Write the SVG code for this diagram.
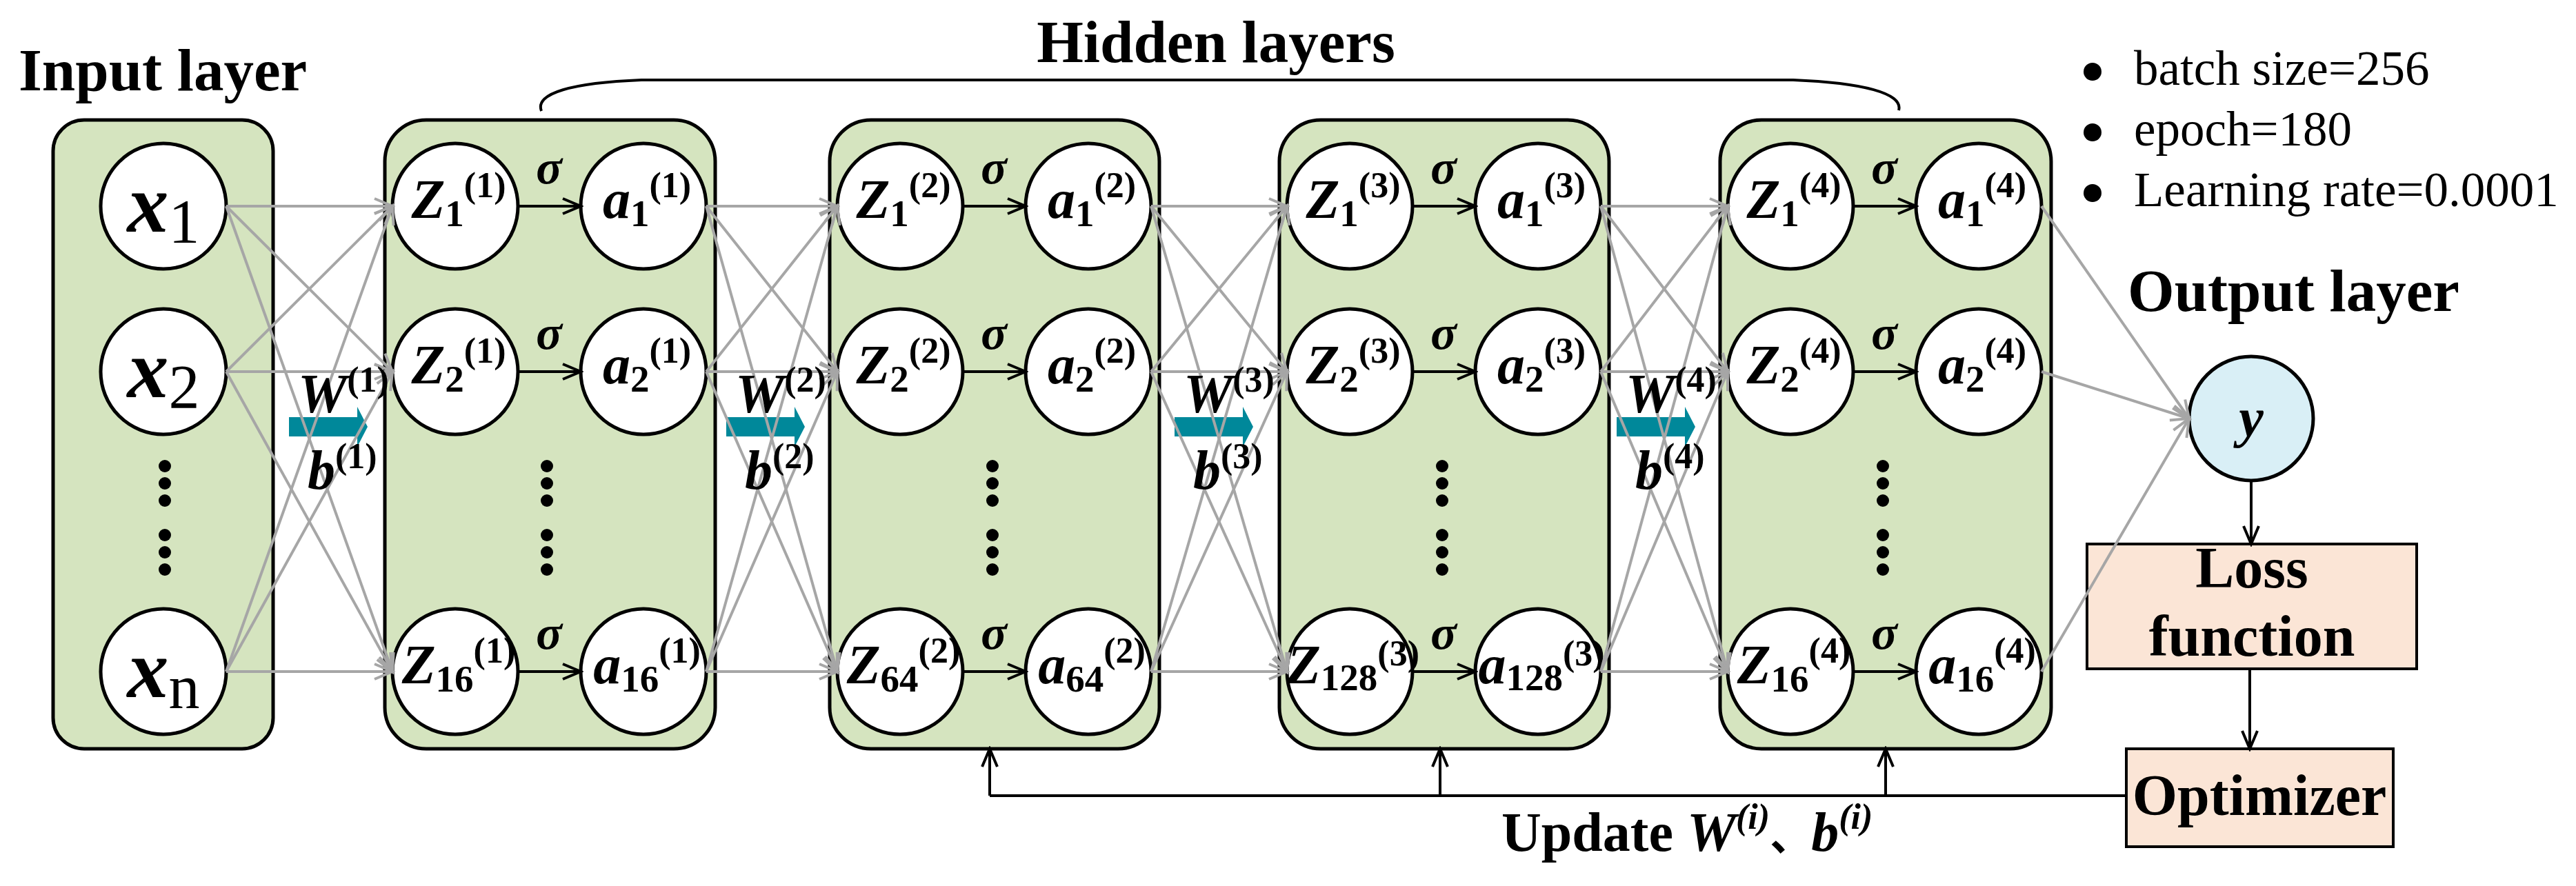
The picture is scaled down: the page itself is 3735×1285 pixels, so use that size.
<svg xmlns="http://www.w3.org/2000/svg" width="3735" height="1285" viewBox="0 0 3735 1285">
<style>
text{font-family:"Liberation Serif","Times New Roman","DejaVu Serif",serif;fill:#000}
.title{font-size:87px;font-weight:bold}
.box{fill:#d5e4bf;stroke:#000;stroke-width:5}
.node{fill:#fff;stroke:#000;stroke-width:5}
.g{stroke:#a6a6a6;stroke-width:4;fill:none;marker-end:url(#ga)}
.k{stroke:#000;stroke-width:4;fill:none;marker-end:url(#ka)}
.lab{font-size:80px;font-weight:bold;font-style:italic;text-anchor:middle}
.sub{font-size:55px;font-style:normal}
.sup{font-size:52px;font-style:normal}
.xl{font-size:120px;font-weight:bold;font-style:italic;text-anchor:middle}
.xs{font-size:90px;font-style:normal;font-weight:normal}
.sig{font-size:70px;font-weight:bold;font-style:italic;text-anchor:middle}
.teal{fill:#00889a}
.wb{font-size:80px;font-weight:bold;font-style:italic}
.bul{font-size:71px}
.bt{font-size:84px;font-weight:bold;text-anchor:middle}
</style>
<defs>
<marker id="ga" markerUnits="userSpaceOnUse" markerWidth="34" markerHeight="34" refX="30" refY="15" orient="auto" viewBox="0 0 34 30"><path d="M4,4 L30,15 L4,26" fill="none" stroke="#a6a6a6" stroke-width="4"/></marker>
<marker id="ka" markerUnits="userSpaceOnUse" markerWidth="34" markerHeight="34" refX="30" refY="15" orient="auto" viewBox="0 0 34 30"><path d="M4,4 L30,15 L4,26" fill="none" stroke="#000" stroke-width="4"/></marker>
<g id="dots"><circle cx="0" cy="0" r="9"/><circle cx="0" cy="25" r="9"/><circle cx="0" cy="50" r="9"/><circle cx="0" cy="100" r="9"/><circle cx="0" cy="125" r="9"/><circle cx="0" cy="150" r="9"/></g>
<path id="tarrow" d="M0,15 H99 V0 L114,29 L99,58 V43 H0 Z"/>
</defs>
<rect width="3735" height="1285" fill="#fff"/>

<text class="title" x="27" y="131">Input layer</text>
<text class="title" x="1763" y="90" text-anchor="middle">Hidden layers</text>
<text class="title" x="3085" y="451">Output layer</text>
<path d="M785,161 C775,135 830,120 930,116 H2600 C2700,120 2760,135 2753,160" fill="none" stroke="#000" stroke-width="4"/>

<g id="bullets">
<circle cx="3034" cy="104" r="13"/><text class="bul" x="3094" y="123">batch size=256</text>
<circle cx="3034" cy="192" r="13"/><text class="bul" x="3094" y="211">epoch=180</text>
<circle cx="3034" cy="280" r="13"/><text class="bul" x="3094" y="299">Learning rate=0.0001</text>
</g>

<g id="input-layer">
<rect class="box" x="77" y="174" width="319" height="912" rx="45"/>
<ellipse class="node" cx="237" cy="299" rx="91" ry="91"/>
<ellipse class="node" cx="237" cy="539" rx="91" ry="91"/>
<ellipse class="node" cx="237" cy="974" rx="91" ry="91"/>
<text class="xl" x="237" y="336">x<tspan class="xs" dy="16">1</tspan></text>
<text class="xl" x="237" y="576">x<tspan class="xs" dy="16">2</tspan></text>
<text class="xl" x="237" y="1011">x<tspan class="xs" dy="16" font-weight="bold">n</tspan></text>
<use href="#dots" x="239" y="676"/>
</g>

<g id="hidden-1">
<rect class="box" x="558" y="174" width="479" height="912" rx="60"/>
<ellipse class="node" cx="660" cy="299" rx="91" ry="91"/><ellipse class="node" cx="933" cy="299" rx="91" ry="91"/>
<ellipse class="node" cx="660" cy="539" rx="91" ry="91"/><ellipse class="node" cx="933" cy="539" rx="91" ry="91"/>
<ellipse class="node" cx="660" cy="974" rx="91" ry="91"/><ellipse class="node" cx="933" cy="974" rx="91" ry="91"/>
<text class="lab" x="665" y="316">Z<tspan class="sub" dy="12">1</tspan><tspan class="sup" dy="-42">(1)</tspan></text>
<text class="lab" x="938" y="316">a<tspan class="sub" dy="12">1</tspan><tspan class="sup" dy="-42">(1)</tspan></text>
<text class="lab" x="665" y="556">Z<tspan class="sub" dy="12">2</tspan><tspan class="sup" dy="-42">(1)</tspan></text>
<text class="lab" x="938" y="556">a<tspan class="sub" dy="12">2</tspan><tspan class="sup" dy="-42">(1)</tspan></text>
<text class="lab" x="665" y="991">Z<tspan class="sub" dy="12">16</tspan><tspan class="sup" dy="-42">(1)</tspan></text>
<text class="lab" x="938" y="991">a<tspan class="sub" dy="12">16</tspan><tspan class="sup" dy="-42">(1)</tspan></text>
<text class="sig" x="796" y="266">σ</text><text class="sig" x="796" y="506">σ</text><text class="sig" x="796" y="941">σ</text>
<use href="#dots" x="793" y="676"/>
</g>

<g id="hidden-2">
<rect class="box" x="1203" y="174" width="478" height="912" rx="60"/>
<ellipse class="node" cx="1305" cy="299" rx="91" ry="91"/><ellipse class="node" cx="1578" cy="299" rx="91" ry="91"/>
<ellipse class="node" cx="1305" cy="539" rx="91" ry="91"/><ellipse class="node" cx="1578" cy="539" rx="91" ry="91"/>
<ellipse class="node" cx="1305" cy="974" rx="91" ry="91"/><ellipse class="node" cx="1578" cy="974" rx="91" ry="91"/>
<text class="lab" x="1310" y="316">Z<tspan class="sub" dy="12">1</tspan><tspan class="sup" dy="-42">(2)</tspan></text>
<text class="lab" x="1583" y="316">a<tspan class="sub" dy="12">1</tspan><tspan class="sup" dy="-42">(2)</tspan></text>
<text class="lab" x="1310" y="556">Z<tspan class="sub" dy="12">2</tspan><tspan class="sup" dy="-42">(2)</tspan></text>
<text class="lab" x="1583" y="556">a<tspan class="sub" dy="12">2</tspan><tspan class="sup" dy="-42">(2)</tspan></text>
<text class="lab" x="1310" y="991">Z<tspan class="sub" dy="12">64</tspan><tspan class="sup" dy="-42">(2)</tspan></text>
<text class="lab" x="1583" y="991">a<tspan class="sub" dy="12">64</tspan><tspan class="sup" dy="-42">(2)</tspan></text>
<text class="sig" x="1441" y="266">σ</text><text class="sig" x="1441" y="506">σ</text><text class="sig" x="1441" y="941">σ</text>
<use href="#dots" x="1439" y="676"/>
</g>

<g id="hidden-3">
<rect class="box" x="1855" y="174" width="478" height="912" rx="60"/>
<ellipse class="node" cx="1957" cy="299" rx="91" ry="91"/><ellipse class="node" cx="2230" cy="299" rx="91" ry="91"/>
<ellipse class="node" cx="1957" cy="539" rx="91" ry="91"/><ellipse class="node" cx="2230" cy="539" rx="91" ry="91"/>
<ellipse class="node" cx="1957" cy="974" rx="91" ry="91"/><ellipse class="node" cx="2230" cy="974" rx="91" ry="91"/>
<text class="lab" x="1962" y="316">Z<tspan class="sub" dy="12">1</tspan><tspan class="sup" dy="-42">(3)</tspan></text>
<text class="lab" x="2235" y="316">a<tspan class="sub" dy="12">1</tspan><tspan class="sup" dy="-42">(3)</tspan></text>
<text class="lab" x="1962" y="556">Z<tspan class="sub" dy="12">2</tspan><tspan class="sup" dy="-42">(3)</tspan></text>
<text class="lab" x="2235" y="556">a<tspan class="sub" dy="12">2</tspan><tspan class="sup" dy="-42">(3)</tspan></text>
<text class="lab" x="1962" y="991" font-size="66">Z<tspan class="sub" dy="10" font-size="46">128</tspan><tspan class="sup" dy="-36" font-size="44">(3)</tspan></text>
<text class="lab" x="2235" y="991" font-size="66">a<tspan class="sub" dy="10" font-size="46">128</tspan><tspan class="sup" dy="-36" font-size="44">(3)</tspan></text>
<text class="sig" x="2093" y="266">σ</text><text class="sig" x="2093" y="506">σ</text><text class="sig" x="2093" y="941">σ</text>
<use href="#dots" x="2091" y="676"/>
</g>

<g id="hidden-4">
<rect class="box" x="2494" y="174" width="480" height="912" rx="60"/>
<ellipse class="node" cx="2596" cy="299" rx="91" ry="91"/><ellipse class="node" cx="2869" cy="299" rx="91" ry="91"/>
<ellipse class="node" cx="2596" cy="539" rx="91" ry="91"/><ellipse class="node" cx="2869" cy="539" rx="91" ry="91"/>
<ellipse class="node" cx="2596" cy="974" rx="91" ry="91"/><ellipse class="node" cx="2869" cy="974" rx="91" ry="91"/>
<text class="lab" x="2601" y="316">Z<tspan class="sub" dy="12">1</tspan><tspan class="sup" dy="-42">(4)</tspan></text>
<text class="lab" x="2874" y="316">a<tspan class="sub" dy="12">1</tspan><tspan class="sup" dy="-42">(4)</tspan></text>
<text class="lab" x="2601" y="556">Z<tspan class="sub" dy="12">2</tspan><tspan class="sup" dy="-42">(4)</tspan></text>
<text class="lab" x="2874" y="556">a<tspan class="sub" dy="12">2</tspan><tspan class="sup" dy="-42">(4)</tspan></text>
<text class="lab" x="2601" y="991">Z<tspan class="sub" dy="12">16</tspan><tspan class="sup" dy="-42">(4)</tspan></text>
<text class="lab" x="2874" y="991">a<tspan class="sub" dy="12">16</tspan><tspan class="sup" dy="-42">(4)</tspan></text>
<text class="sig" x="2732" y="266">σ</text><text class="sig" x="2732" y="506">σ</text><text class="sig" x="2732" y="941">σ</text>
<use href="#dots" x="2730" y="676"/>
</g>

<g id="output-y">
<circle cx="3264" cy="607" r="90" fill="#d9eff6" stroke="#000" stroke-width="5"/>
<text class="lab" x="3264" y="633" font-size="100">y</text>
</g>
<g id="loss">
<rect x="3026" y="789" width="478" height="181" fill="#fbe5d6" stroke="#000" stroke-width="4"/>
<text class="bt" x="3265" y="852">Loss</text>
<text class="bt" x="3265" y="951">function</text>
</g>
<g id="optimizer">
<rect x="3083" y="1086" width="387" height="142" fill="#fbe5d6" stroke="#000" stroke-width="4"/>
<text class="bt" x="3276" y="1182">Optimizer</text>
</g>

<g id="weights">
<use href="#tarrow" class="teal" x="419" y="590"/>
<use href="#tarrow" class="teal" x="1053" y="590"/>
<use href="#tarrow" class="teal" x="1703" y="590"/>
<use href="#tarrow" class="teal" x="2344" y="590"/>
</g>

<g id="connectors">
<line class="g" x1="328" y1="299" x2="569" y2="299"/><line class="g" x1="328" y1="299" x2="569" y2="539"/><line class="g" x1="328" y1="299" x2="569" y2="974"/>
<line class="g" x1="328" y1="539" x2="569" y2="299"/><line class="g" x1="328" y1="539" x2="569" y2="539"/><line class="g" x1="328" y1="539" x2="569" y2="974"/>
<line class="g" x1="328" y1="974" x2="569" y2="299"/><line class="g" x1="328" y1="974" x2="569" y2="539"/><line class="g" x1="328" y1="974" x2="569" y2="974"/>
<line class="g" x1="1024" y1="299" x2="1214" y2="299"/><line class="g" x1="1024" y1="299" x2="1214" y2="539"/><line class="g" x1="1024" y1="299" x2="1214" y2="974"/>
<line class="g" x1="1024" y1="539" x2="1214" y2="299"/><line class="g" x1="1024" y1="539" x2="1214" y2="539"/><line class="g" x1="1024" y1="539" x2="1214" y2="974"/>
<line class="g" x1="1024" y1="974" x2="1214" y2="299"/><line class="g" x1="1024" y1="974" x2="1214" y2="539"/><line class="g" x1="1024" y1="974" x2="1214" y2="974"/>
<line class="g" x1="1669" y1="299" x2="1866" y2="299"/><line class="g" x1="1669" y1="299" x2="1866" y2="539"/><line class="g" x1="1669" y1="299" x2="1866" y2="974"/>
<line class="g" x1="1669" y1="539" x2="1866" y2="299"/><line class="g" x1="1669" y1="539" x2="1866" y2="539"/><line class="g" x1="1669" y1="539" x2="1866" y2="974"/>
<line class="g" x1="1669" y1="974" x2="1866" y2="299"/><line class="g" x1="1669" y1="974" x2="1866" y2="539"/><line class="g" x1="1669" y1="974" x2="1866" y2="974"/>
<line class="g" x1="2321" y1="299" x2="2505" y2="299"/><line class="g" x1="2321" y1="299" x2="2505" y2="539"/><line class="g" x1="2321" y1="299" x2="2505" y2="974"/>
<line class="g" x1="2321" y1="539" x2="2505" y2="299"/><line class="g" x1="2321" y1="539" x2="2505" y2="539"/><line class="g" x1="2321" y1="539" x2="2505" y2="974"/>
<line class="g" x1="2321" y1="974" x2="2505" y2="299"/><line class="g" x1="2321" y1="974" x2="2505" y2="539"/><line class="g" x1="2321" y1="974" x2="2505" y2="974"/>
<line class="g" x1="2960" y1="299" x2="3174" y2="607"/><line class="g" x1="2960" y1="539" x2="3174" y2="607"/><line class="g" x1="2960" y1="974" x2="3174" y2="607"/>
<line class="k" x1="751" y1="299" x2="842" y2="299"/><line class="k" x1="751" y1="539" x2="842" y2="539"/><line class="k" x1="751" y1="974" x2="842" y2="974"/>
<line class="k" x1="1396" y1="299" x2="1487" y2="299"/><line class="k" x1="1396" y1="539" x2="1487" y2="539"/><line class="k" x1="1396" y1="974" x2="1487" y2="974"/>
<line class="k" x1="2048" y1="299" x2="2139" y2="299"/><line class="k" x1="2048" y1="539" x2="2139" y2="539"/><line class="k" x1="2048" y1="974" x2="2139" y2="974"/>
<line class="k" x1="2687" y1="299" x2="2778" y2="299"/><line class="k" x1="2687" y1="539" x2="2778" y2="539"/><line class="k" x1="2687" y1="974" x2="2778" y2="974"/>
<line class="k" x1="3264" y1="697" x2="3264" y2="789"/>
<line class="k" x1="3262" y1="970" x2="3262" y2="1086"/>
<line x1="3083" y1="1154" x2="1435" y2="1154" stroke="#000" stroke-width="4"/>
<line class="k" x1="1435" y1="1154" x2="1435" y2="1086"/>
<line class="k" x1="2088" y1="1154" x2="2088" y2="1086"/>
<line class="k" x1="2734" y1="1154" x2="2734" y2="1086"/>
</g>

<g id="weight-labels">
<text class="wb" x="432" y="598">W<tspan class="sup" dy="-30" font-weight="bold">(1)</tspan></text>
<text class="wb" x="446" y="709">b<tspan class="sup" dy="-30" font-weight="bold">(1)</tspan></text>
<text class="wb" x="1066" y="598">W<tspan class="sup" dy="-30" font-weight="bold">(2)</tspan></text>
<text class="wb" x="1080" y="709">b<tspan class="sup" dy="-30" font-weight="bold">(2)</tspan></text>
<text class="wb" x="1716" y="598">W<tspan class="sup" dy="-30" font-weight="bold">(3)</tspan></text>
<text class="wb" x="1730" y="709">b<tspan class="sup" dy="-30" font-weight="bold">(3)</tspan></text>
<text class="wb" x="2357" y="598">W<tspan class="sup" dy="-30" font-weight="bold">(4)</tspan></text>
<text class="wb" x="2371" y="709">b<tspan class="sup" dy="-30" font-weight="bold">(4)</tspan></text>
</g>

<text x="2177" y="1234" font-size="80" font-weight="bold">Update <tspan font-style="italic">W</tspan><tspan font-style="italic" font-size="52" dy="-32">(i)</tspan><tspan dy="32" font-family="'Noto Sans CJK SC',sans-serif" font-size="60">、</tspan><tspan font-style="italic">b</tspan><tspan font-style="italic" font-size="52" dy="-32">(i)</tspan></text>
</svg>
